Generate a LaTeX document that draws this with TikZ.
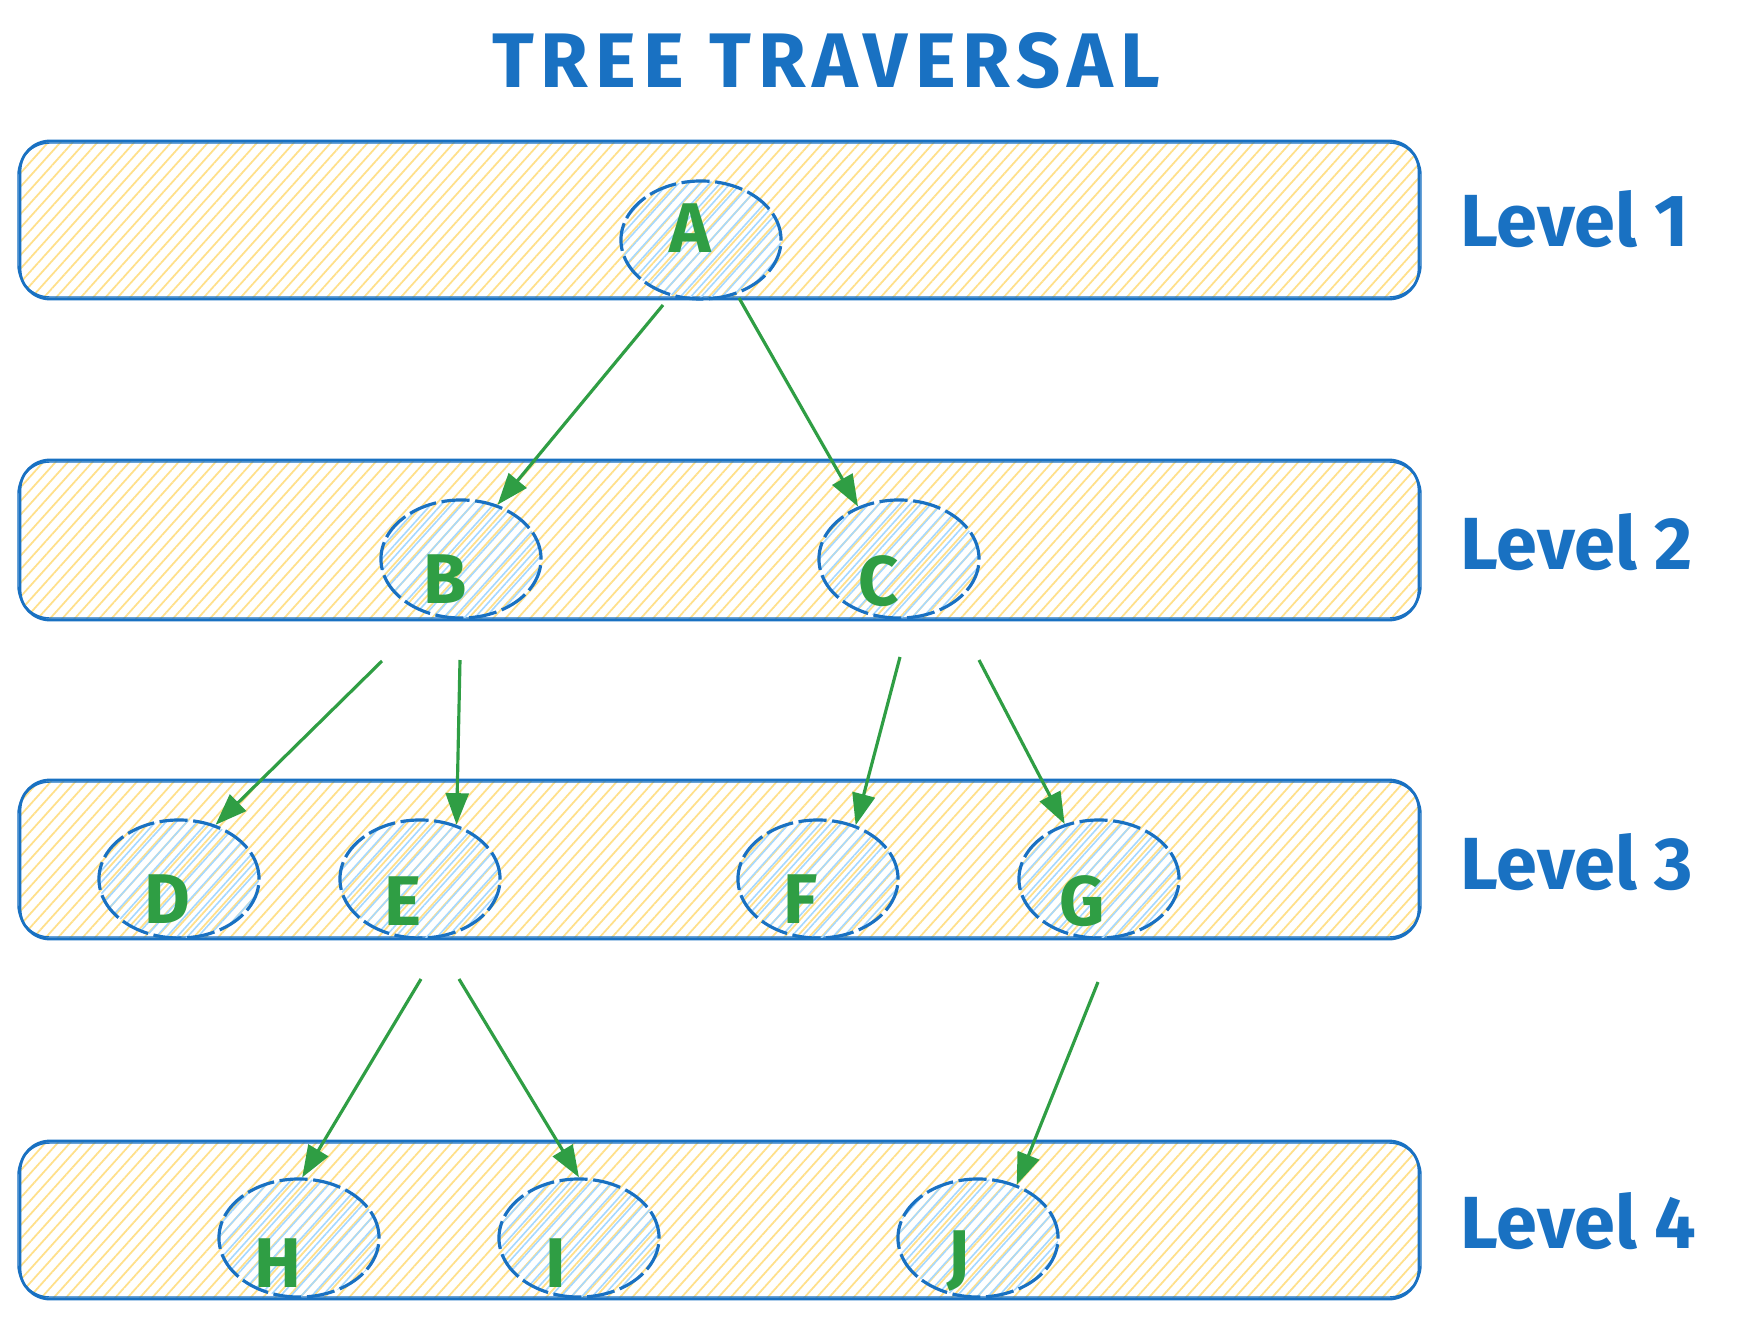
\documentclass[tikz,border=0pt]{standalone}
\usepackage{fontspec}
\setmainfont{Fira Sans}
\usetikzlibrary{arrows.meta,patterns.meta,shapes.geometric}
\definecolor{sblue}{HTML}{1971C2}
\definecolor{sgreen}{HTML}{2F9E44}
\definecolor{hyel}{HTML}{FFE08A}
\definecolor{hblue}{HTML}{A5D8FF}
\begin{document}
\begin{tikzpicture}[x=0.01cm,y=-0.01cm,
  band/.style={draw=sblue, line width=0.8pt, rounded corners=0.3cm,
    pattern={Lines[angle=48,distance=2.6pt,line width=0.5pt]}, pattern color=hyel},
  bandsk/.style={draw=sblue, line width=0.4pt, rounded corners=0.32cm},
  circ/.style={ellipse, draw=sblue, line width=0.9pt, dash pattern=on 8pt off 1.6pt,
    minimum width=1.6cm, minimum height=1.18cm, inner sep=0pt,
    pattern={Lines[angle=48,distance=2.2pt,line width=0.45pt]}, pattern color=hblue},
  letter/.style={text=sgreen, font=\bfseries\fontsize{20}{20}\selectfont, inner sep=0pt},
  lvl/.style={text=sblue, anchor=west, inner sep=0pt, font=\bfseries\fontsize{21}{21}\selectfont},
  arr/.style={draw=sgreen, line width=0.9pt, -{Triangle[length=9pt,width=6.5pt]}}]
\fill[white] (0,0) rectangle (1745,1330);
\useasboundingbox (0,0) rectangle (1745,1330);

% title
\node[text=sblue, inner sep=0pt, font=\bfseries\fontsize{22}{22}\selectfont\addfontfeatures{LetterSpace=9}] (title) at (826,61) {TREE TRAVERSAL};

% bands
\path[band] (20,141) rectangle (1419,299);
\path[bandsk] (18,143) rectangle (1421,297);
\path[band] (20,460) rectangle (1419,620);
\path[bandsk] (18,462) rectangle (1421,618);
\path[band] (20,780) rectangle (1419,939);
\path[bandsk] (18,782) rectangle (1421,937);
\path[band] (20,1141) rectangle (1419,1299);
\path[bandsk] (18,1143) rectangle (1421,1297);

% level labels
\node[lvl] (l1) at (1460,219) {Level 1};
\node[lvl] (l2) at (1460,542) {Level 2};
\node[lvl] (l3) at (1460,862) {Level 3};
\node[lvl] (l4) at (1460,1221) {Level 4};

% tree nodes
\node[circ] (A) at (701,240) {};
\node[circ] (B) at (461,559) {};
\node[circ] (C) at (899,559) {};
\node[circ] (D) at (179,879) {};
\node[circ] (E) at (420,879) {};
\node[circ] (F) at (818,879) {};
\node[circ] (G) at (1099,879) {};
\node[circ] (H) at (299,1238) {};
\node[circ] (I) at (579,1238) {};
\node[circ] (J) at (978,1238) {};

\node[letter] (tA) at (690,228) {A};
\node[letter] (tB) at (445,579) {B};
\node[letter] (tC) at (879,581) {C};
\node[letter] (tD) at (167,899) {D};
\node[letter] (tE) at (403,901) {E};
\node[letter] (tF) at (801,899) {F};
\node[letter] (tG) at (1082,901) {G};
\node[letter] (tH) at (278,1263) {H};
\node[letter] (tI) at (556,1263) {I};
\node[letter] (tJ) at (959,1261) {J};

% arrow start points
\coordinate (sAB) at (663,305);
\coordinate (sAC) at (739,298);
\coordinate (sBD) at (382,661);
\coordinate (sBE) at (460,660);
\coordinate (sCF) at (900,657);
\coordinate (sCG) at (979,660);
\coordinate (sEH) at (421,979);
\coordinate (sEI) at (459,979);
\coordinate (sGJ) at (1098,982);

\draw[arr] (sAB) -- (B.56);
\draw[arr] (sAC) -- (C.128);
\draw[arr] (sBD) -- (D.56);
\draw[arr] (sBE) -- (E.56);
\draw[arr] (sCF) -- (F.55);
\draw[arr] (sCG) -- (G.122);
\draw[arr] (sEH) -- (H.87);
\draw[arr] (sEI) -- (I.90);
\draw[arr] (sGJ) -- (J.54);
\end{tikzpicture}
\end{document}
